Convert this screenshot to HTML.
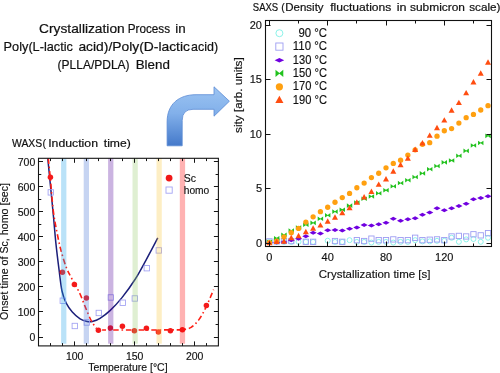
<!DOCTYPE html>
<html><head><meta charset="utf-8"><style>
html,body{margin:0;padding:0;background:#fff;}
svg{display:block;will-change:transform;}
text{font-family:"Liberation Sans", sans-serif;fill:#111111;stroke:#111111;stroke-width:0.15px;}
text.b{stroke:#111111;stroke-width:0.2px;}
text.c{stroke:#111111;stroke-width:0.15px;}
</style></head><body>
<svg width="500" height="373" viewBox="0 0 500 373">
<rect width="500" height="373" fill="#fff"/>
<path d="M47.80,158.50 C48.25,163.08 49.53,176.08 50.50,186.00 C51.47,195.92 52.72,208.62 53.60,218.00 C54.48,227.38 54.88,233.60 55.80,242.30 C56.72,251.00 58.07,262.08 59.10,270.20 C60.13,278.32 60.82,285.52 62.00,291.00 C63.18,296.48 64.48,299.62 66.20,303.10 C67.92,306.58 69.98,309.28 72.30,311.90 C74.62,314.52 77.63,317.20 80.10,318.80 C82.57,320.40 85.07,321.05 87.10,321.50 C89.13,321.95 90.15,322.03 92.30,321.50 C94.45,320.97 97.05,320.12 100.00,318.30 C102.95,316.48 106.33,314.05 110.00,310.60 C113.67,307.15 117.83,302.78 122.00,297.60 C126.17,292.42 131.02,285.72 135.00,279.50 C138.98,273.28 142.10,267.23 145.90,260.30 C149.70,253.37 155.82,241.63 157.80,237.90" fill="none" stroke="#1b1f7a" stroke-width="1.5"/>
<path d="M48.30,158.50 C48.67,162.08 49.68,171.42 50.50,180.00 C51.32,188.58 52.15,201.42 53.20,210.00 C54.25,218.58 55.48,224.68 56.80,231.50 C58.12,238.32 59.48,244.82 61.10,250.90 C62.72,256.98 64.70,263.35 66.50,268.00 C68.30,272.65 69.72,274.63 71.90,278.80 C74.08,282.97 77.37,288.30 79.60,293.00 C81.83,297.70 83.42,302.50 85.30,307.00 C87.18,311.50 89.03,316.42 90.90,320.00 C92.77,323.58 95.57,327.08 96.50,328.50" fill="none" stroke="#ff1f14" stroke-width="1.6" stroke-dasharray="5.5 2.8 1.6 2.8"/>
<path d="M102.1,330 L182.2,329.9" fill="none" stroke="#ff1f14" stroke-width="1.6" stroke-dasharray="5.5 2.8 1.6 2.8" stroke-dashoffset="1.6"/>
<path d="M182.20,329.80 C183.68,329.40 188.28,329.13 191.10,327.40 C193.92,325.67 196.57,322.88 199.10,319.40 C201.63,315.92 203.88,311.47 206.30,306.50 C208.72,301.53 212.38,292.42 213.60,289.60" fill="none" stroke="#ff1f14" stroke-width="1.6" stroke-dasharray="5.5 2.8 1.6 2.8" stroke-dashoffset="6"/>
<rect x="48.10" y="189.68" width="5.4" height="5.4" fill="none" stroke="#a0a0f2" stroke-width="0.85"/>
<rect x="60.10" y="298.02" width="5.4" height="5.4" fill="none" stroke="#a0a0f2" stroke-width="0.85"/>
<rect x="72.10" y="323.29" width="5.4" height="5.4" fill="none" stroke="#a0a0f2" stroke-width="0.85"/>
<rect x="84.10" y="319.79" width="5.4" height="5.4" fill="none" stroke="#a0a0f2" stroke-width="0.85"/>
<rect x="96.10" y="310.28" width="5.4" height="5.4" fill="none" stroke="#a0a0f2" stroke-width="0.85"/>
<rect x="108.10" y="294.77" width="5.4" height="5.4" fill="none" stroke="#a0a0f2" stroke-width="0.85"/>
<rect x="120.10" y="300.02" width="5.4" height="5.4" fill="none" stroke="#a0a0f2" stroke-width="0.85"/>
<rect x="132.10" y="295.77" width="5.4" height="5.4" fill="none" stroke="#a0a0f2" stroke-width="0.85"/>
<rect x="144.10" y="265.50" width="5.4" height="5.4" fill="none" stroke="#a0a0f2" stroke-width="0.85"/>
<rect x="156.10" y="247.73" width="5.4" height="5.4" fill="none" stroke="#a0a0f2" stroke-width="0.85"/>
<circle cx="50.40" cy="177.37" r="2.75" fill="#f41a1a"/>
<circle cx="62.40" cy="272.20" r="2.75" fill="#f41a1a"/>
<circle cx="74.40" cy="284.46" r="2.75" fill="#f41a1a"/>
<circle cx="86.40" cy="297.97" r="2.75" fill="#f41a1a"/>
<circle cx="98.40" cy="330.24" r="2.75" fill="#f41a1a"/>
<circle cx="110.40" cy="327.99" r="2.75" fill="#f41a1a"/>
<circle cx="122.40" cy="326.24" r="2.75" fill="#f41a1a"/>
<circle cx="134.40" cy="330.75" r="2.75" fill="#f41a1a"/>
<circle cx="146.40" cy="328.24" r="2.75" fill="#f41a1a"/>
<circle cx="158.40" cy="332.00" r="2.75" fill="#f41a1a"/>
<circle cx="170.40" cy="330.75" r="2.75" fill="#f41a1a"/>
<circle cx="182.40" cy="329.74" r="2.75" fill="#f41a1a"/>
<circle cx="206.40" cy="305.47" r="2.75" fill="#f41a1a"/>
<rect x="61.1" y="158.4" width="5.3" height="185.3" fill="#1c9ee8" fill-opacity="0.3"/>
<rect x="83.7" y="158.4" width="5.3" height="185.3" fill="#4170d4" fill-opacity="0.3"/>
<rect x="108.1" y="158.4" width="5.3" height="185.3" fill="#52089b" fill-opacity="0.3"/>
<rect x="132.5" y="158.4" width="5.3" height="185.3" fill="#94ca69" fill-opacity="0.3"/>
<rect x="156.5" y="158.4" width="5.3" height="185.3" fill="#f8c63a" fill-opacity="0.3"/>
<rect x="179.8" y="158.4" width="5.3" height="185.3" fill="#ff0000" fill-opacity="0.3"/>
<rect x="38.5" y="158.3" width="179.9" height="187.59999999999997" fill="none" stroke="#151515" stroke-width="1.1"/>
<path d="M50.50,345.9v-2.8M50.50,158.3v2.8M62.50,345.9v-2.8M62.50,158.3v2.8M74.50,345.9v-4.5M74.50,158.3v4.5M86.50,345.9v-2.8M86.50,158.3v2.8M98.50,345.9v-2.8M98.50,158.3v2.8M110.50,345.9v-2.8M110.50,158.3v2.8M122.50,345.9v-2.8M122.50,158.3v2.8M134.50,345.9v-4.5M134.50,158.3v4.5M146.50,345.9v-2.8M146.50,158.3v2.8M158.50,345.9v-2.8M158.50,158.3v2.8M170.50,345.9v-2.8M170.50,158.3v2.8M182.50,345.9v-2.8M182.50,158.3v2.8M194.50,345.9v-4.5M194.50,158.3v4.5M206.50,345.9v-2.8M206.50,158.3v2.8M38.5,337.50h4.5M218.4,337.50h-4.5M38.5,324.50h2.8M218.4,324.50h-2.8M38.5,311.50h4.5M218.4,311.50h-4.5M38.5,299.50h2.8M218.4,299.50h-2.8M38.5,286.50h4.5M218.4,286.50h-4.5M38.5,274.50h2.8M218.4,274.50h-2.8M38.5,261.50h4.5M218.4,261.50h-4.5M38.5,249.50h2.8M218.4,249.50h-2.8M38.5,236.50h4.5M218.4,236.50h-4.5M38.5,224.50h2.8M218.4,224.50h-2.8M38.5,211.50h4.5M218.4,211.50h-4.5M38.5,199.50h2.8M218.4,199.50h-2.8M38.5,186.50h4.5M218.4,186.50h-4.5M38.5,174.50h2.8M218.4,174.50h-2.8M38.5,161.50h4.5M218.4,161.50h-4.5" stroke="#151515" stroke-width="1" fill="none"/>
<text x="35.3" y="340.80" text-anchor="end" font-size="10.5">0</text>
<text x="35.3" y="315.78" text-anchor="end" font-size="10.5">100</text>
<text x="35.3" y="290.76" text-anchor="end" font-size="10.5">200</text>
<text x="35.3" y="265.74" text-anchor="end" font-size="10.5">300</text>
<text x="35.3" y="240.72" text-anchor="end" font-size="10.5">400</text>
<text x="35.3" y="215.70" text-anchor="end" font-size="10.5">500</text>
<text x="35.3" y="190.68" text-anchor="end" font-size="10.5">600</text>
<text x="35.3" y="165.66" text-anchor="end" font-size="10.5">700</text>
<text x="74.70" y="359.9" text-anchor="middle" font-size="10.5">100</text>
<text x="134.70" y="359.9" text-anchor="middle" font-size="10.5">150</text>
<text x="194.70" y="359.9" text-anchor="middle" font-size="10.5">200</text>
<text x="88.2" y="370.6" font-size="10.8" textLength="79.4" lengthAdjust="spacingAndGlyphs">Temperature [°C]</text>
<text transform="translate(8.4,320) rotate(-90)" font-size="10.6" textLength="137" lengthAdjust="spacingAndGlyphs">Onset time of Sc, homo [sec]</text>
<circle cx="169.1" cy="178.1" r="3.4" fill="#f01818"/>
<rect x="166" y="187" width="6.2" height="6.2" fill="none" stroke="#a4a4f4" stroke-width="0.9"/>
<text x="183.7" y="181.9" font-size="10.5">Sc</text>
<text x="183.7" y="194.1" font-size="10.5" textLength="25.6" lengthAdjust="spacingAndGlyphs">homo</text>
<g>
<circle cx="269.40" cy="241.91" r="2.5" fill="none" stroke="#7ff0e6" stroke-width="0.9"/>
<circle cx="276.69" cy="241.91" r="2.5" fill="none" stroke="#7ff0e6" stroke-width="0.9"/>
<circle cx="283.97" cy="241.91" r="2.5" fill="none" stroke="#7ff0e6" stroke-width="0.9"/>
<circle cx="291.26" cy="241.91" r="2.5" fill="none" stroke="#7ff0e6" stroke-width="0.9"/>
<circle cx="298.55" cy="241.80" r="2.5" fill="none" stroke="#7ff0e6" stroke-width="0.9"/>
<circle cx="305.84" cy="241.91" r="2.5" fill="none" stroke="#7ff0e6" stroke-width="0.9"/>
<circle cx="313.12" cy="241.91" r="2.5" fill="none" stroke="#7ff0e6" stroke-width="0.9"/>
<circle cx="327.70" cy="240.71" r="2.5" fill="none" stroke="#7ff0e6" stroke-width="0.9"/>
<circle cx="334.99" cy="241.91" r="2.5" fill="none" stroke="#7ff0e6" stroke-width="0.9"/>
<circle cx="342.27" cy="241.91" r="2.5" fill="none" stroke="#7ff0e6" stroke-width="0.9"/>
<circle cx="349.56" cy="240.17" r="2.5" fill="none" stroke="#7ff0e6" stroke-width="0.9"/>
<circle cx="356.85" cy="241.91" r="2.5" fill="none" stroke="#7ff0e6" stroke-width="0.9"/>
<circle cx="364.14" cy="241.91" r="2.5" fill="none" stroke="#7ff0e6" stroke-width="0.9"/>
<circle cx="371.42" cy="242.56" r="2.5" fill="none" stroke="#7ff0e6" stroke-width="0.9"/>
<circle cx="378.71" cy="241.91" r="2.5" fill="none" stroke="#7ff0e6" stroke-width="0.9"/>
<circle cx="386.00" cy="241.91" r="2.5" fill="none" stroke="#7ff0e6" stroke-width="0.9"/>
<circle cx="393.29" cy="242.56" r="2.5" fill="none" stroke="#7ff0e6" stroke-width="0.9"/>
<circle cx="400.57" cy="241.91" r="2.5" fill="none" stroke="#7ff0e6" stroke-width="0.9"/>
<circle cx="407.86" cy="241.91" r="2.5" fill="none" stroke="#7ff0e6" stroke-width="0.9"/>
<circle cx="415.15" cy="240.17" r="2.5" fill="none" stroke="#7ff0e6" stroke-width="0.9"/>
<circle cx="422.44" cy="241.37" r="2.5" fill="none" stroke="#7ff0e6" stroke-width="0.9"/>
<circle cx="429.72" cy="241.37" r="2.5" fill="none" stroke="#7ff0e6" stroke-width="0.9"/>
<circle cx="437.01" cy="240.82" r="2.5" fill="none" stroke="#7ff0e6" stroke-width="0.9"/>
<circle cx="444.30" cy="240.82" r="2.5" fill="none" stroke="#7ff0e6" stroke-width="0.9"/>
<circle cx="451.59" cy="237.77" r="2.5" fill="none" stroke="#7ff0e6" stroke-width="0.9"/>
<circle cx="458.88" cy="241.80" r="2.5" fill="none" stroke="#7ff0e6" stroke-width="0.9"/>
<circle cx="466.16" cy="239.40" r="2.5" fill="none" stroke="#7ff0e6" stroke-width="0.9"/>
<circle cx="473.45" cy="238.97" r="2.5" fill="none" stroke="#7ff0e6" stroke-width="0.9"/>
<circle cx="480.74" cy="241.80" r="2.5" fill="none" stroke="#7ff0e6" stroke-width="0.9"/>
<circle cx="488.02" cy="237.77" r="2.5" fill="none" stroke="#7ff0e6" stroke-width="0.9"/>
<rect x="266.75" y="238.72" width="5.3" height="5.3" fill="none" stroke="#9d9df2" stroke-width="0.9"/>
<rect x="274.04" y="238.72" width="5.3" height="5.3" fill="none" stroke="#9d9df2" stroke-width="0.9"/>
<rect x="281.32" y="238.39" width="5.3" height="5.3" fill="none" stroke="#9d9df2" stroke-width="0.9"/>
<rect x="288.61" y="238.39" width="5.3" height="5.3" fill="none" stroke="#9d9df2" stroke-width="0.9"/>
<rect x="303.19" y="239.15" width="5.3" height="5.3" fill="none" stroke="#9d9df2" stroke-width="0.9"/>
<rect x="310.48" y="239.15" width="5.3" height="5.3" fill="none" stroke="#9d9df2" stroke-width="0.9"/>
<rect x="332.34" y="238.39" width="5.3" height="5.3" fill="none" stroke="#9d9df2" stroke-width="0.9"/>
<rect x="339.62" y="239.15" width="5.3" height="5.3" fill="none" stroke="#9d9df2" stroke-width="0.9"/>
<rect x="354.20" y="237.52" width="5.3" height="5.3" fill="none" stroke="#9d9df2" stroke-width="0.9"/>
<rect x="361.49" y="238.39" width="5.3" height="5.3" fill="none" stroke="#9d9df2" stroke-width="0.9"/>
<rect x="368.77" y="235.99" width="5.3" height="5.3" fill="none" stroke="#9d9df2" stroke-width="0.9"/>
<rect x="376.06" y="237.52" width="5.3" height="5.3" fill="none" stroke="#9d9df2" stroke-width="0.9"/>
<rect x="383.35" y="237.52" width="5.3" height="5.3" fill="none" stroke="#9d9df2" stroke-width="0.9"/>
<rect x="390.64" y="236.75" width="5.3" height="5.3" fill="none" stroke="#9d9df2" stroke-width="0.9"/>
<rect x="397.93" y="237.52" width="5.3" height="5.3" fill="none" stroke="#9d9df2" stroke-width="0.9"/>
<rect x="405.21" y="237.52" width="5.3" height="5.3" fill="none" stroke="#9d9df2" stroke-width="0.9"/>
<rect x="412.50" y="235.12" width="5.3" height="5.3" fill="none" stroke="#9d9df2" stroke-width="0.9"/>
<rect x="419.79" y="237.52" width="5.3" height="5.3" fill="none" stroke="#9d9df2" stroke-width="0.9"/>
<rect x="427.07" y="237.08" width="5.3" height="5.3" fill="none" stroke="#9d9df2" stroke-width="0.9"/>
<rect x="434.36" y="236.75" width="5.3" height="5.3" fill="none" stroke="#9d9df2" stroke-width="0.9"/>
<rect x="441.65" y="237.52" width="5.3" height="5.3" fill="none" stroke="#9d9df2" stroke-width="0.9"/>
<rect x="448.94" y="233.81" width="5.3" height="5.3" fill="none" stroke="#9d9df2" stroke-width="0.9"/>
<rect x="456.23" y="233.26" width="5.3" height="5.3" fill="none" stroke="#9d9df2" stroke-width="0.9"/>
<rect x="463.51" y="233.81" width="5.3" height="5.3" fill="none" stroke="#9d9df2" stroke-width="0.9"/>
<rect x="470.80" y="231.63" width="5.3" height="5.3" fill="none" stroke="#9d9df2" stroke-width="0.9"/>
<rect x="478.09" y="232.72" width="5.3" height="5.3" fill="none" stroke="#9d9df2" stroke-width="0.9"/>
<rect x="485.38" y="230.54" width="5.3" height="5.3" fill="none" stroke="#9d9df2" stroke-width="0.9"/>
<path d="M265.80,242.78L269.40,240.78L273.00,242.78L269.40,244.78Z" fill="#7000e0"/>
<path d="M273.09,242.46L276.69,240.46L280.29,242.46L276.69,244.46Z" fill="#7000e0"/>
<path d="M280.37,241.91L283.97,239.91L287.57,241.91L283.97,243.91Z" fill="#7000e0"/>
<path d="M287.66,240.17L291.26,238.17L294.86,240.17L291.26,242.17Z" fill="#7000e0"/>
<path d="M294.95,238.64L298.55,236.64L302.15,238.64L298.55,240.64Z" fill="#7000e0"/>
<path d="M302.24,236.24L305.84,234.24L309.44,236.24L305.84,238.24Z" fill="#7000e0"/>
<path d="M309.52,232.75L313.12,230.75L316.73,232.75L313.12,234.75Z" fill="#7000e0"/>
<path d="M316.81,233.52L320.41,231.52L324.01,233.52L320.41,235.52Z" fill="#7000e0"/>
<path d="M324.10,230.25L327.70,228.25L331.30,230.25L327.70,232.25Z" fill="#7000e0"/>
<path d="M331.39,230.03L334.99,228.03L338.59,230.03L334.99,232.03Z" fill="#7000e0"/>
<path d="M338.67,230.57L342.27,228.57L345.88,230.57L342.27,232.57Z" fill="#7000e0"/>
<path d="M345.96,228.72L349.56,226.72L353.16,228.72L349.56,230.72Z" fill="#7000e0"/>
<path d="M353.25,227.41L356.85,225.41L360.45,227.41L356.85,229.41Z" fill="#7000e0"/>
<path d="M360.54,225.12L364.14,223.12L367.74,225.12L364.14,227.12Z" fill="#7000e0"/>
<path d="M367.82,225.56L371.42,223.56L375.02,225.56L371.42,227.56Z" fill="#7000e0"/>
<path d="M375.11,224.25L378.71,222.25L382.31,224.25L378.71,226.25Z" fill="#7000e0"/>
<path d="M382.40,222.84L386.00,220.84L389.60,222.84L386.00,224.84Z" fill="#7000e0"/>
<path d="M389.69,218.80L393.29,216.80L396.89,218.80L393.29,220.80Z" fill="#7000e0"/>
<path d="M396.97,220.66L400.57,218.66L404.18,220.66L400.57,222.66Z" fill="#7000e0"/>
<path d="M404.26,219.35L407.86,217.35L411.46,219.35L407.86,221.35Z" fill="#7000e0"/>
<path d="M411.55,218.26L415.15,216.26L418.75,218.26L415.15,220.26Z" fill="#7000e0"/>
<path d="M418.84,214.66L422.44,212.66L426.04,214.66L422.44,216.66Z" fill="#7000e0"/>
<path d="M426.12,212.48L429.72,210.48L433.32,212.48L429.72,214.48Z" fill="#7000e0"/>
<path d="M433.41,208.23L437.01,206.23L440.61,208.23L437.01,210.23Z" fill="#7000e0"/>
<path d="M440.70,210.30L444.30,208.30L447.90,210.30L444.30,212.30Z" fill="#7000e0"/>
<path d="M447.99,208.23L451.59,206.23L455.19,208.23L451.59,210.23Z" fill="#7000e0"/>
<path d="M455.27,206.05L458.88,204.05L462.48,206.05L458.88,208.05Z" fill="#7000e0"/>
<path d="M462.56,203.87L466.16,201.87L469.76,203.87L466.16,205.87Z" fill="#7000e0"/>
<path d="M469.85,199.18L473.45,197.18L477.05,199.18L473.45,201.18Z" fill="#7000e0"/>
<path d="M477.14,198.09L480.74,196.09L484.34,198.09L480.74,200.09Z" fill="#7000e0"/>
<path d="M484.42,196.35L488.02,194.35L491.62,196.35L488.02,198.35Z" fill="#7000e0"/>
<path d="M266.70,239.61L269.40,241.51L272.10,239.61L272.10,244.21L269.40,242.31L266.70,244.21Z" fill="#22c21e"/>
<path d="M273.99,235.90L276.69,237.80L279.39,235.90L279.39,240.50L276.69,238.60L273.99,240.50Z" fill="#22c21e"/>
<path d="M281.27,232.52L283.97,234.42L286.67,232.52L286.67,237.12L283.97,235.22L281.27,237.12Z" fill="#22c21e"/>
<path d="M288.56,228.27L291.26,230.17L293.96,228.27L293.96,232.87L291.26,230.97L288.56,232.87Z" fill="#22c21e"/>
<path d="M295.85,225.22L298.55,227.12L301.25,225.22L301.25,229.82L298.55,227.92L295.85,229.82Z" fill="#22c21e"/>
<path d="M303.14,222.50L305.84,224.40L308.54,222.50L308.54,227.10L305.84,225.20L303.14,227.10Z" fill="#22c21e"/>
<path d="M310.43,220.53L313.12,222.44L315.82,220.53L315.82,225.14L313.12,223.24L310.43,225.14Z" fill="#22c21e"/>
<path d="M317.71,216.50L320.41,218.40L323.11,216.50L323.11,221.10L320.41,219.20L317.71,221.10Z" fill="#22c21e"/>
<path d="M325.00,213.01L327.70,214.91L330.40,213.01L330.40,217.61L327.70,215.71L325.00,217.61Z" fill="#22c21e"/>
<path d="M332.29,209.31L334.99,211.21L337.69,209.31L337.69,213.91L334.99,212.01L332.29,213.91Z" fill="#22c21e"/>
<path d="M339.57,207.45L342.27,209.35L344.97,207.45L344.97,212.06L342.27,210.16L339.57,212.06Z" fill="#22c21e"/>
<path d="M346.86,203.31L349.56,205.21L352.26,203.31L352.26,207.91L349.56,206.01L346.86,207.91Z" fill="#22c21e"/>
<path d="M354.15,200.26L356.85,202.16L359.55,200.26L359.55,204.86L356.85,202.96L354.15,204.86Z" fill="#22c21e"/>
<path d="M361.44,196.45L364.14,198.35L366.84,196.45L366.84,201.05L364.14,199.15L361.44,201.05Z" fill="#22c21e"/>
<path d="M368.72,194.16L371.42,196.06L374.12,194.16L374.12,198.76L371.42,196.86L368.72,198.76Z" fill="#22c21e"/>
<path d="M376.01,191.00L378.71,192.90L381.41,191.00L381.41,195.60L378.71,193.70L376.01,195.60Z" fill="#22c21e"/>
<path d="M383.30,187.94L386.00,189.84L388.70,187.94L388.70,192.54L386.00,190.64L383.30,192.54Z" fill="#22c21e"/>
<path d="M390.59,184.02L393.29,185.92L395.99,184.02L395.99,188.62L393.29,186.72L390.59,188.62Z" fill="#22c21e"/>
<path d="M397.88,180.75L400.57,182.65L403.27,180.75L403.27,185.35L400.57,183.45L397.88,185.35Z" fill="#22c21e"/>
<path d="M405.16,177.92L407.86,179.82L410.56,177.92L410.56,182.52L407.86,180.62L405.16,182.52Z" fill="#22c21e"/>
<path d="M412.45,174.75L415.15,176.66L417.85,174.75L417.85,179.36L415.15,177.46L412.45,179.36Z" fill="#22c21e"/>
<path d="M419.74,171.05L422.44,172.95L425.14,171.05L425.14,175.65L422.44,173.75L419.74,175.65Z" fill="#22c21e"/>
<path d="M427.02,166.91L429.72,168.81L432.42,166.91L432.42,171.51L429.72,169.61L427.02,171.51Z" fill="#22c21e"/>
<path d="M434.31,163.75L437.01,165.65L439.71,163.75L439.71,168.35L437.01,166.45L434.31,168.35Z" fill="#22c21e"/>
<path d="M441.60,160.04L444.30,161.94L447.00,160.04L447.00,164.64L444.30,162.74L441.60,164.64Z" fill="#22c21e"/>
<path d="M448.89,158.19L451.59,160.09L454.29,158.19L454.29,162.79L451.59,160.89L448.89,162.79Z" fill="#22c21e"/>
<path d="M456.18,153.50L458.88,155.40L461.57,153.50L461.57,158.10L458.88,156.20L456.18,158.10Z" fill="#22c21e"/>
<path d="M463.46,148.59L466.16,150.50L468.86,148.59L468.86,153.20L466.16,151.30L463.46,153.20Z" fill="#22c21e"/>
<path d="M470.75,143.14L473.45,145.04L476.15,143.14L476.15,147.75L473.45,145.84L470.75,147.75Z" fill="#22c21e"/>
<path d="M478.04,140.64L480.74,142.54L483.44,140.64L483.44,145.24L480.74,143.34L478.04,145.24Z" fill="#22c21e"/>
<path d="M485.32,133.55L488.02,135.45L490.72,133.55L490.72,138.15L488.02,136.25L485.32,138.15Z" fill="#22c21e"/>
<circle cx="269.40" cy="242.56" r="2.65" fill="#ffa010"/>
<circle cx="276.69" cy="241.26" r="2.65" fill="#ffa010"/>
<circle cx="283.97" cy="236.90" r="2.65" fill="#ffa010"/>
<circle cx="291.26" cy="232.65" r="2.65" fill="#ffa010"/>
<circle cx="298.55" cy="228.39" r="2.65" fill="#ffa010"/>
<circle cx="305.84" cy="222.07" r="2.65" fill="#ffa010"/>
<circle cx="313.12" cy="216.84" r="2.65" fill="#ffa010"/>
<circle cx="320.41" cy="211.72" r="2.65" fill="#ffa010"/>
<circle cx="327.70" cy="207.25" r="2.65" fill="#ffa010"/>
<circle cx="334.99" cy="202.23" r="2.65" fill="#ffa010"/>
<circle cx="342.27" cy="197.55" r="2.65" fill="#ffa010"/>
<circle cx="349.56" cy="193.41" r="2.65" fill="#ffa010"/>
<circle cx="356.85" cy="187.74" r="2.65" fill="#ffa010"/>
<circle cx="364.14" cy="183.05" r="2.65" fill="#ffa010"/>
<circle cx="371.42" cy="177.60" r="2.65" fill="#ffa010"/>
<circle cx="378.71" cy="173.24" r="2.65" fill="#ffa010"/>
<circle cx="386.00" cy="167.79" r="2.65" fill="#ffa010"/>
<circle cx="393.29" cy="163.43" r="2.65" fill="#ffa010"/>
<circle cx="400.57" cy="160.16" r="2.65" fill="#ffa010"/>
<circle cx="407.86" cy="155.04" r="2.65" fill="#ffa010"/>
<circle cx="415.15" cy="149.81" r="2.65" fill="#ffa010"/>
<circle cx="422.44" cy="144.35" r="2.65" fill="#ffa010"/>
<circle cx="429.72" cy="142.72" r="2.65" fill="#ffa010"/>
<circle cx="437.01" cy="136.18" r="2.65" fill="#ffa010"/>
<circle cx="444.30" cy="130.73" r="2.65" fill="#ffa010"/>
<circle cx="451.59" cy="128.55" r="2.65" fill="#ffa010"/>
<circle cx="458.88" cy="123.10" r="2.65" fill="#ffa010"/>
<circle cx="466.16" cy="117.65" r="2.65" fill="#ffa010"/>
<circle cx="473.45" cy="114.38" r="2.65" fill="#ffa010"/>
<circle cx="480.74" cy="110.02" r="2.65" fill="#ffa010"/>
<circle cx="488.02" cy="105.66" r="2.65" fill="#ffa010"/>
<path d="M269.40,239.86L272.40,245.26L266.40,245.26Z" fill="#ff4d10"/>
<path d="M276.69,238.67L279.69,244.06L273.69,244.06Z" fill="#ff4d10"/>
<path d="M283.97,238.23L286.97,243.63L280.97,243.63Z" fill="#ff4d10"/>
<path d="M291.26,234.85L294.26,240.25L288.26,240.25Z" fill="#ff4d10"/>
<path d="M298.55,232.78L301.55,238.18L295.55,238.18Z" fill="#ff4d10"/>
<path d="M305.84,228.86L308.84,234.25L302.84,234.25Z" fill="#ff4d10"/>
<path d="M313.12,225.37L316.12,230.77L310.12,230.77Z" fill="#ff4d10"/>
<path d="M320.41,222.21L323.41,227.61L317.41,227.61Z" fill="#ff4d10"/>
<path d="M327.70,218.28L330.70,223.68L324.70,223.68Z" fill="#ff4d10"/>
<path d="M334.99,214.25L337.99,219.65L331.99,219.65Z" fill="#ff4d10"/>
<path d="M342.27,209.78L345.27,215.18L339.27,215.18Z" fill="#ff4d10"/>
<path d="M349.56,204.88L352.56,210.27L346.56,210.27Z" fill="#ff4d10"/>
<path d="M356.85,199.32L359.85,204.72L353.85,204.72Z" fill="#ff4d10"/>
<path d="M364.14,193.98L367.14,199.38L361.14,199.38Z" fill="#ff4d10"/>
<path d="M371.42,188.53L374.42,193.92L368.42,193.92Z" fill="#ff4d10"/>
<path d="M378.71,181.44L381.71,186.84L375.71,186.84Z" fill="#ff4d10"/>
<path d="M386.00,175.99L389.00,181.39L383.00,181.39Z" fill="#ff4d10"/>
<path d="M393.29,168.36L396.29,173.76L390.29,173.76Z" fill="#ff4d10"/>
<path d="M400.57,161.82L403.57,167.22L397.57,167.22Z" fill="#ff4d10"/>
<path d="M407.86,155.28L410.86,160.68L404.86,160.68Z" fill="#ff4d10"/>
<path d="M415.15,146.56L418.15,151.96L412.15,151.96Z" fill="#ff4d10"/>
<path d="M422.44,140.02L425.44,145.42L419.44,145.42Z" fill="#ff4d10"/>
<path d="M429.72,132.39L432.72,137.79L426.72,137.79Z" fill="#ff4d10"/>
<path d="M437.01,124.76L440.01,130.16L434.01,130.16Z" fill="#ff4d10"/>
<path d="M444.30,117.13L447.30,122.53L441.30,122.53Z" fill="#ff4d10"/>
<path d="M451.59,107.32L454.59,112.72L448.59,112.72Z" fill="#ff4d10"/>
<path d="M458.88,99.69L461.88,105.09L455.88,105.09Z" fill="#ff4d10"/>
<path d="M466.16,89.88L469.16,95.28L463.16,95.28Z" fill="#ff4d10"/>
<path d="M473.45,78.98L476.45,84.38L470.45,84.38Z" fill="#ff4d10"/>
<path d="M480.74,70.26L483.74,75.66L477.74,75.66Z" fill="#ff4d10"/>
<path d="M488.02,59.36L491.02,64.76L485.02,64.76Z" fill="#ff4d10"/>
</g>
<rect x="265.5" y="20.5" width="226.0" height="226.0" fill="none" stroke="#111" stroke-width="1.1"/>
<path d="M269.50,246.5v-5M269.50,20.5v5M298.50,246.5v-3M298.50,20.5v3M327.50,246.5v-5M327.50,20.5v5M356.50,246.5v-3M356.50,20.5v3M386.50,246.5v-5M386.50,20.5v5M415.50,246.5v-3M415.50,20.5v3M444.50,246.5v-5M444.50,20.5v5M473.50,246.5v-3M473.50,20.5v3M265.5,243.50h5M491.5,243.50h-5M265.5,188.50h5M491.5,188.50h-5M265.5,134.50h5M491.5,134.50h-5M265.5,79.50h5M491.5,79.50h-5M265.5,25.50h5M491.5,25.50h-5" stroke="#111" stroke-width="1" fill="none"/>
<text x="262" y="246.90" text-anchor="end" font-size="11">0</text>
<text x="262" y="192.40" text-anchor="end" font-size="11">5</text>
<text x="262" y="137.90" text-anchor="end" font-size="11">10</text>
<text x="262" y="83.40" text-anchor="end" font-size="11">15</text>
<text x="262" y="28.90" text-anchor="end" font-size="11">20</text>
<text x="269.40" y="261.2" text-anchor="middle" font-size="11">0</text>
<text x="327.70" y="261.2" text-anchor="middle" font-size="11">40</text>
<text x="386.00" y="261.2" text-anchor="middle" font-size="11">80</text>
<text x="444.30" y="261.2" text-anchor="middle" font-size="11">120</text>
<text x="318.8" y="278" font-size="11.4" textLength="111.6" lengthAdjust="spacingAndGlyphs">Crystallization time [s]</text>
<text transform="translate(242.4,132.9) rotate(-90)" font-size="10.8" textLength="75.6" lengthAdjust="spacingAndGlyphs">sity [arb. units]</text>
<circle cx="279.40" cy="33.20" r="3.5" fill="none" stroke="#7ff0e6" stroke-width="0.9"/>
<rect x="275.80" y="43.00" width="7.2" height="7.2" fill="none" stroke="#9d9df2" stroke-width="0.9"/>
<path d="M274.60,60.20L279.40,57.90L284.20,60.20L279.40,62.50Z" fill="#7000e0"/>
<path d="M275.50,69.80L279.40,73.00L283.30,69.80L283.30,77.00L279.40,73.80L275.50,77.00Z" fill="#22c21e"/>
<circle cx="279.40" cy="86.80" r="3.6" fill="#ffa010"/>
<path d="M279.40,95.80L283.45,103.00L275.35,103.00Z" fill="#ff4d10"/>
<text class="c" x="298.4" y="37.10" font-size="11.9" textLength="28.6" lengthAdjust="spacingAndGlyphs">90 °C</text>
<text class="c" x="292.8" y="50.38" font-size="11.9" textLength="34.2" lengthAdjust="spacingAndGlyphs">110 °C</text>
<text class="c" x="292.8" y="63.66" font-size="11.9" textLength="34.2" lengthAdjust="spacingAndGlyphs">130 °C</text>
<text class="c" x="292.8" y="76.94" font-size="11.9" textLength="34.2" lengthAdjust="spacingAndGlyphs">150 °C</text>
<text class="c" x="292.8" y="90.22" font-size="11.9" textLength="34.2" lengthAdjust="spacingAndGlyphs">170 °C</text>
<text class="c" x="292.8" y="103.50" font-size="11.9" textLength="34.2" lengthAdjust="spacingAndGlyphs">190 °C</text>
<text class="b" x="39.1" y="33.4" font-size="12.6" textLength="85.6" lengthAdjust="spacingAndGlyphs">Crystallization</text>
<text class="b" x="127.7" y="33.4" font-size="12.6" textLength="42.4" lengthAdjust="spacingAndGlyphs">Process</text>
<text class="b" x="175.3" y="33.4" font-size="12.6" textLength="10.4" lengthAdjust="spacingAndGlyphs">in</text>
<text class="b" x="3.6" y="51" font-size="12.6" textLength="69.4" lengthAdjust="spacingAndGlyphs">Poly(L-lactic</text>
<text class="b" x="78.4" y="51" font-size="12.6" textLength="111.6" lengthAdjust="spacingAndGlyphs">acid)/Poly(D-lactic</text>
<text class="b" x="191.1" y="51" font-size="12.6" textLength="27" lengthAdjust="spacingAndGlyphs">acid)</text>
<text class="b" x="57.6" y="69" font-size="12.6" textLength="72" lengthAdjust="spacingAndGlyphs">(PLLA/PDLA)</text>
<text class="b" x="135.7" y="69" font-size="12.6" textLength="34.2" lengthAdjust="spacingAndGlyphs">Blend</text>
<text class="b" x="12.0" y="146.9" font-size="10.9" textLength="30.2" lengthAdjust="spacingAndGlyphs">WAXS</text>
<text x="42.4" y="146.9" font-size="10.6">(</text>
<text x="48.2" y="146.9" class="b" font-size="11.3" textLength="49.8" lengthAdjust="spacingAndGlyphs">Induction</text>
<text x="103.8" y="146.9" class="b" font-size="11.3" textLength="27" lengthAdjust="spacingAndGlyphs">time)</text>
<text class="b" x="252.8" y="10.9" font-size="10.9" textLength="25.4" lengthAdjust="spacingAndGlyphs">SAXS</text>
<text x="281.2" y="10.9" font-size="10.6">(</text>
<text class="b" x="285.3" y="10.8" font-size="11.3" textLength="38.3" lengthAdjust="spacingAndGlyphs">Density</text>
<text class="b" x="330.2" y="10.8" font-size="11.3" textLength="61.2" lengthAdjust="spacingAndGlyphs">fluctuations</text>
<text class="b" x="396.8" y="10.8" font-size="11.3" textLength="9.8" lengthAdjust="spacingAndGlyphs">in</text>
<text class="b" x="410.0" y="10.8" font-size="11.3" textLength="55.0" lengthAdjust="spacingAndGlyphs">submicron</text>
<text class="b" x="469.2" y="10.8" font-size="11.3" textLength="31.3" lengthAdjust="spacingAndGlyphs">scale)</text>
<defs><linearGradient id="ag" x1="0" y1="0" x2="0" y2="1">
<stop offset="0" stop-color="#9cc4f2"/><stop offset="0.45" stop-color="#82b0ea"/><stop offset="1" stop-color="#4479ca"/></linearGradient></defs>
<path d="M167.1,145.8 L167.1,122 C167.1,104 179,94.7 196,94.7 L214,94.7 L214,86.8 L229.4,101.2 L214,116.2 L214,109.3 L193,109.3 Q182.2,109.3 182.2,120.5 L182.2,145.8 Z" fill="url(#ag)" stroke="#5a8ad4" stroke-width="0.8"/>
</svg></body></html>
